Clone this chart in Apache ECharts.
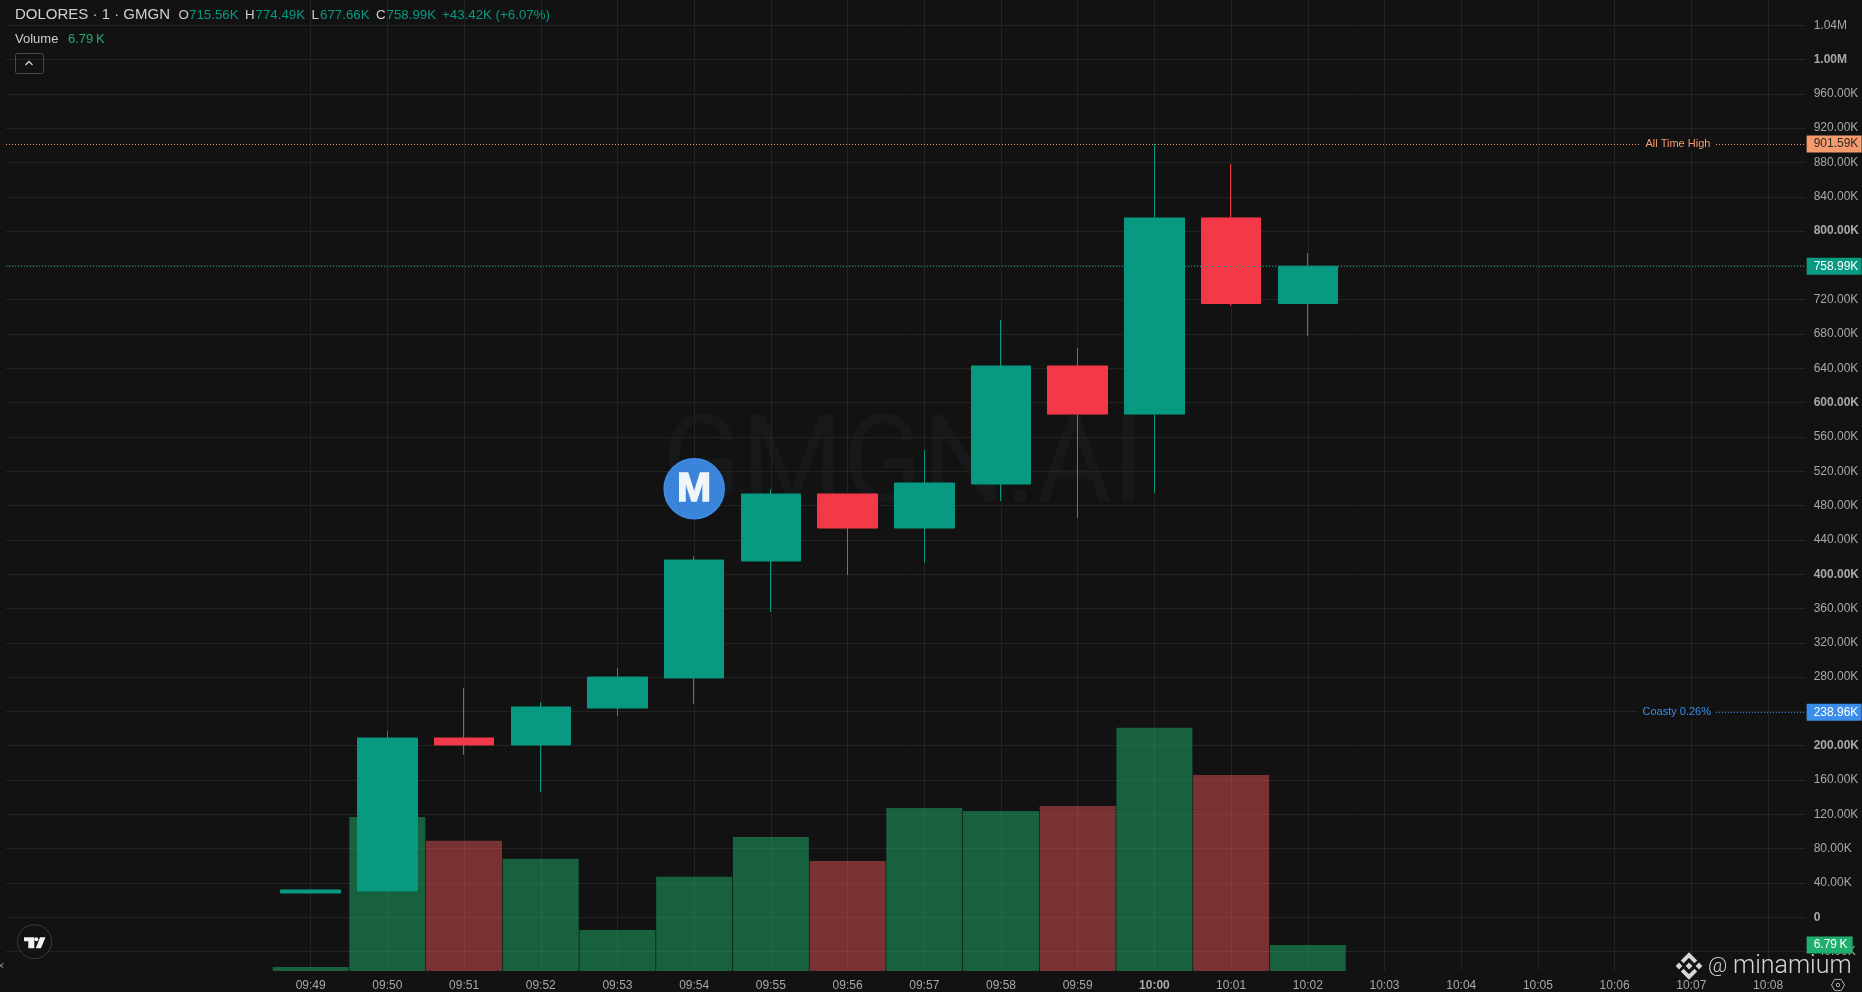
<!DOCTYPE html>
<html><head><meta charset="utf-8">
<style>html,body{margin:0;padding:0;background:#121212;overflow:hidden}#c{width:1862px;height:992px}</style>
<script src="https://cdn.jsdelivr.net/npm/echarts@6/dist/echarts.min.js"></script>
</head><body><div id="c"></div>
<script>
var timeLabels = ['09:49','09:50','09:51','09:52','09:53','09:54','09:55','09:56','09:57','09:58','09:59','10:00','10:01','10:02','10:03','10:04','10:05','10:06','10:07','10:08'];
var boldTime = ['10:00'];
var opens   = [28300, 30700, 209000, 200900, 244000, 279000, 415400, 493500, 453800, 505100, 642700, 586700, 815300, 715560];
var closes  = [31900, 209000, 200900, 245200, 280100, 416500, 493500, 453800, 506300, 642700, 586700, 815300, 715560, 758990];
var lows    = [28300, 30700, 189200, 146100, 234700, 248700, 355900, 399000, 413000, 485300, 465500, 494700, 712700, 677660];
var highs   = [31900, 217200, 267300, 251000, 290600, 421200, 499300, 493500, 544800, 696300, 663700, 901590, 878200, 774490];
var volumes = [1040, 40200, 34000, 29300, 10700, 24600, 35000, 28700, 42600, 41800, 43100, 63500, 51200, 6790];
var priceTicks = [-40000,0,40000,80000,120000,160000,200000,240000,280000,320000,360000,400000,440000,480000,520000,560000,600000,640000,680000,720000,760000,800000,840000,880000,920000,960000,1000000,1040000];
var priceTickLabels = ['-40.00K','0','40.00K','80.00K','120.00K','160.00K','200.00K','240.00K','280.00K','320.00K','360.00K','400.00K','440.00K','480.00K','520.00K','560.00K','600.00K','640.00K','680.00K','720.00K','760.00K','800.00K','840.00K','880.00K','920.00K','960.00K','1.00M','1.04M'];
var boldPrices = [0,200000,400000,600000,800000,1000000];
var athPrice = 901590, lastPrice = 758990, coastyPrice = 238960, lastVolume = 6790;
var markerPrice = 499700, markerIndex = 5;

var X_MIN = -3.9716, X_MAX = 19.49;
var Y_MIN = -62600, Y_MAX = 1069400;
var BG = '#121212', GRID = '#232323', AX = '#a8a8a8';
var TEAL = '#089981', RED = '#F33848', ORANGE='#F59A6C', BLUE='#3B8DEB', VOLTAG='#1FAE6D';
var ff = '"Liberation Sans", Arial, sans-serif';

var xTicks = timeLabels.map(function(_, i){return i;});
var candles = timeLabels.slice(0, opens.length).map(function(_, i){return [i, opens[i], closes[i], lows[i], highs[i]];});
var volData = volumes.map(function(v, i){
  return {value:[i, v], itemStyle:{color: closes[i] >= opens[i] ? 'rgba(31,186,114,0.47)' : 'rgba(239,88,92,0.47)'}};
});

function tag(text, bg, fg, w){
  return {show:true, position:'end', distance:1, formatter:text, backgroundColor:bg, color:fg, fontFamily:ff, opacity:1,
    fontSize:12, lineHeight:15, padding:[2,0,0,7], width:w, height:15, align:'left', verticalAlign:'middle'};
}
function hline(v, from, color, label){
  return [{xAxis:from, yAxis:v, lineStyle:{color:color, type:[1,2], width:1, opacity:1}, label:label},
          {xAxis:X_MAX, yAxis:v}];
}
function lineText(text, cx, v, color){
  return {coord:[cx, v], symbol:'circle', symbolSize:0,
    label:{show:true, position:'inside', formatter:text, color:color, fontSize:11, fontFamily:ff,
      backgroundColor:BG, padding:[1,5]}};
}
function t(x, y, text, color, size, extra){
  var s = {text:text, fill:color, font:(extra&&extra.weight||'normal')+' '+size+'px '+(extra&&extra.family||ff), textVerticalAlign:'middle', textAlign:extra&&extra.align||'left'};
  return {type:'text', x:x, y:y, z:100, silent:true, style:s};
}
function poly(points, fill){ return {type:'polygon', z:100, silent:true, shape:{points:points}, style:{fill:fill}}; }
function stroke(points, col, w){ return {type:'polyline', z:100, silent:true, shape:{points:points}, style:{fill:'none', stroke:col, lineWidth:w}}; }
function dia(cx, cy, r){ return poly([[cx,cy-r],[cx+r,cy],[cx,cy+r],[cx-r,cy]], '#d6d6d6'); }

var HC = '#cfcfcf', VC = TEAL;
var hexR = 6.5, hexC=[1838,985];
var graphics = [
  {type:'text', x:662, y:471.5, z:-1, silent:true, scaleX:0.955, style:{text:'GMGN.AI', fill:'#17181a', font:'400 122px Roboto', textVerticalAlign:'middle'}},
  t(15,15,'DOLORES · 1 · GMGN',HC,15),
  t(178.5,15,'O',HC,13.3), t(189,15,'715.56K',VC,13.3),
  t(245,15,'H',HC,13.3), t(255.5,15,'774.49K',VC,13.3),
  t(311.5,15,'L',HC,13.3), t(320,15,'677.66K',VC,13.3),
  t(376,15,'C',HC,13.3), t(386.5,15,'758.99K',VC,13.3),
  t(442,15,'+43.42K (+6.07%)',VC,13.3),
  t(15,39,'Volume',HC,13), t(68,39,'6.79\u2009K',VOLTAG,13),
  {type:'rect', z:100, silent:true, shape:{x:15.5,y:53.5,width:28,height:20,r:2}, style:{fill:'none',stroke:'#4a4a4a',lineWidth:1}},
  stroke([[25.5,65],[29,61.5],[32.5,65]],'#d0d0d0',1.3),
  {type:'circle', z:100, silent:true, shape:{cx:34.5,cy:941.7,r:17}, style:{fill:BG,stroke:'#3c3c3c',lineWidth:1}},
  poly([[24,937.3],[34.3,937.3],[34.3,948.3],[28.3,948.3],[28.3,941.2],[24,941.2]],'#f2f2f2'),
  {type:'circle', z:100, silent:true, shape:{cx:36.3,cy:939.2,r:2}, style:{fill:'#f2f2f2'}},
  poly([[40,937.3],[45.5,937.3],[41,948.3],[35.8,948.3]],'#f2f2f2'),
  t(-3,966.5,'×','#8a8a8a',13),
  dia(1689,966,3.4), dia(1679,966,3.4), dia(1699,966,3.4),
  stroke([[1682.2,961.8],[1689,955],[1695.8,961.8]],'#d6d6d6',4),
  stroke([[1682.2,970.2],[1689,977],[1695.8,970.2]],'#d6d6d6',4),
  t(1708,967,'@','#d6d6d6',21,{family:'Roboto',weight:'300'}),
  t(1733,967,'minamium','#d6d6d6',25,{family:'Roboto',weight:'300'}),
  {type:'polygon', z:100, silent:true, shape:{points:[[hexC[0]-hexR,hexC[1]],[hexC[0]-hexR/2,hexC[1]-5.6],[hexC[0]+hexR/2,hexC[1]-5.6],[hexC[0]+hexR,hexC[1]],[hexC[0]+hexR/2,hexC[1]+5.6],[hexC[0]-hexR/2,hexC[1]+5.6]]}, style:{fill:'none',stroke:'#b0b0b0',lineWidth:1}},
  {type:'circle', z:100, silent:true, shape:{cx:hexC[0],cy:hexC[1],r:1.7}, style:{fill:'none',stroke:'#b0b0b0',lineWidth:1}}
];

var chart = echarts.init(document.getElementById('c'), null, {renderer:'canvas', width:1862, height:992});
chart.setOption({
  animation:false,
  backgroundColor:BG,
  grid:{left:6, top:0, width:1800, height:971, containLabel:false},
  graphic:graphics,
  xAxis:{type:'value', min:X_MIN, max:X_MAX, axisLine:{show:false},
    axisTick:{show:false, customValues:xTicks},
    splitLine:{show:true, lineStyle:{color:GRID, width:1}},
    axisLabel:{customValues:xTicks, margin:9, color:AX, fontSize:12, fontFamily:ff, hideOverlap:false,
      showMinLabel:true, showMaxLabel:true,
      formatter:function(v){var s=timeLabels[Math.round(v)]; return boldTime.indexOf(s)>=0 ? '{b|'+s+'}' : s;},
      rich:{b:{fontWeight:'bold', color:AX, fontSize:12, fontFamily:ff}}}},
  yAxis:[
    {type:'value', position:'right', min:Y_MIN, max:Y_MAX, scale:true, axisLine:{show:false},
      axisTick:{show:false, customValues:priceTicks},
      splitLine:{show:true, lineStyle:{color:GRID, width:1}},
      axisLabel:{customValues:priceTicks, margin:8, color:AX, fontSize:12, fontFamily:ff, hideOverlap:false,
        showMinLabel:true, showMaxLabel:true,
        formatter:function(v){var i=priceTicks.indexOf(v); var s=priceTickLabels[i]; return boldPrices.indexOf(v)>=0 ? '{b|'+s+'}' : s;},
        rich:{b:{fontWeight:'bold', color:AX, fontSize:12, fontFamily:ff}}}},
    {type:'value', show:false, min:0, max:253600, splitLine:{show:false}}
  ],
  series:[
    {type:'bar', name:'Volume', xAxisIndex:0, yAxisIndex:1, barWidth:76, z:3, data:volData, silent:true,
      markLine:{silent:true, symbol:'none', animation:false, z:8, data:[
        [{xAxis:X_MAX-0.005, yAxis:lastVolume, lineStyle:{color:'rgba(0,0,0,0)', opacity:1}, label:tag('6.79\u2009K', VOLTAG, '#ffffff', 39)},
         {xAxis:X_MAX, yAxis:lastVolume}]
      ]}},
    {type:'candlestick', name:'DOLORES', xAxisIndex:0, yAxisIndex:0, barWidth:60, z:4, data:candles, silent:true,
      encode:{x:0, y:[1,2,3,4]},
      itemStyle:{color:TEAL, color0:RED, borderColor:TEAL, borderColor0:RED, borderWidth:1},
      markLine:{silent:true, symbol:'none', animation:false, z:8, data:[
        hline(athPrice, X_MIN, ORANGE, tag('901.59K', ORANGE, '#2b2b2b', 48)),
        hline(lastPrice, X_MIN, TEAL, tag('758.99K', TEAL, '#ffffff', 48)),
        hline(coastyPrice, 18.32, BLUE, tag('238.96K', BLUE, '#ffffff', 48))
      ]},
      markPoint:{silent:true, animation:false, z:9, data:[
        lineText('All Time High', 17.825, athPrice, ORANGE),
        lineText('Coasty 0.26%', 17.81, coastyPrice, BLUE),
        {coord:[markerIndex, markerPrice], symbol:'circle', symbolSize:60,
          itemStyle:{color:'#3A85DA', borderColor:'#3F8CE8', borderWidth:1.5},
          label:{show:true, position:'inside', formatter:'M', color:'#EFF5F8', fontSize:41, fontWeight:'bold', fontFamily:ff, textBorderColor:'#EFF5F8', textBorderWidth:1.5, offset:[0,1]}}
      ]}}
  ]
});
</script></body></html>
